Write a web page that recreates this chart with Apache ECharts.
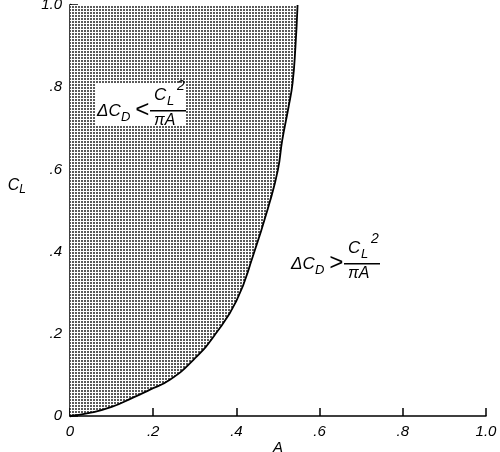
<!DOCTYPE html>
<html>
<head>
<meta charset="utf-8">
<script src="https://cdn.jsdelivr.net/npm/echarts@6/dist/echarts.min.js"></script>
<style>html,body{margin:0;padding:0;background:#fff}#c{width:500px;height:452px}</style>
</head>
<body>
<div id="c"></div>
<script>
// Boundary curve: aspect ratio A (x) vs lift coefficient C_L (y)
var curveA  = [0, 0.05, 0.10, 0.15, 0.19, 0.24, 0.30, 0.35, 0.40, 0.44, 0.48, 0.50, 0.51, 0.525, 0.535, 0.542, 0.547];
var curveCL = [0, 0.008, 0.022, 0.044, 0.063, 0.088, 0.14, 0.20, 0.28, 0.39, 0.52, 0.60, 0.67, 0.75, 0.81, 0.90, 1.00];
var xTickLabels = ['0', '.2', '.4', '.6', '.8', '1.0'];
var yTickLabels = ['0', '.2', '.4', '.6', '.8', '1.0'];

var data = curveA.map(function (a, i) { return [a, curveCL[i]]; });

// dotted fill pattern
var pat = document.createElement('canvas');
pat.width = 3; pat.height = 3;
var pc = pat.getContext('2d');
pc.fillStyle = '#fff'; pc.fillRect(0, 0, 3, 3);
pc.fillStyle = '#5a5a5a'; pc.fillRect(0, 0, 2, 2);

var font = '"Liberation Sans", "DejaVu Sans", sans-serif';
function tickFmt(arr) { return function (v) { var i = Math.round(v / 0.2); return arr[i] !== undefined ? arr[i] : ''; }; }

var chart = echarts.init(document.getElementById('c'), null, { renderer: 'canvas' });

function fracLabel(left, top, sign) {
  var ts = { fontFamily: font, fontStyle: 'italic', fill: '#000' };
  function t(x, y, s, size) { return { type: 'text', left: x, top: y, style: Object.assign({ text: s, fontSize: size }, ts) }; }
  return [
    t(left, top + 12, '\u0394C', 17),
    t(left + 24, top + 20, 'D', 13),
    t(left + 38, top + 7, sign, 24),
    t(left + 57, top - 4, 'C', 17),
    t(left + 70, top + 4, 'L', 13),
    t(left + 80, top - 12, '2', 14),
    { type: 'rect', left: left + 53, top: top + 19, shape: { width: 36, height: 1.5 }, style: { fill: '#000' } },
    t(left + 57, top + 22, '\u03C0A', 16)
  ];
}

var graphics = [
  { type: 'rect', left: 96, top: 83, shape: { width: 90, height: 43 }, style: { fill: '#fff' }, z: 10 }
].concat(fracLabel(97, 91, '<').map(function (g) { g.z = 11; return g; }))
 .concat(fracLabel(291, 244, '>'));

chart.setOption({
  animation: false,
  grid: { left: 70, right: 14, top: 5, bottom: 36, containLabel: false, outerBoundsMode: 'none' },
  xAxis: {
    type: 'value', min: 0, max: 1, interval: 0.2,
    name: 'A', nameLocation: 'middle', nameGap: 24, nameMoveOverlap: false,
    nameTextStyle: { fontFamily: font, fontStyle: 'italic', fontSize: 15, color: '#000' },
    axisLine: { show: true, lineStyle: { color: '#000', width: 1.5 } },
    axisTick: { show: true, inside: true, length: 8, lineStyle: { color: '#000', width: 1.5 } },
    axisLabel: { formatter: tickFmt(xTickLabels), fontFamily: font, fontStyle: 'italic', fontSize: 15, color: '#000', margin: 8 },
    splitLine: { show: false }
  },
  yAxis: {
    type: 'value', min: 0, max: 1, interval: 0.2,
    name: '{c|C}{s|L}', nameLocation: 'middle', nameGap: 44, nameRotate: 0, nameMoveOverlap: false,
    nameTextStyle: { padding: [0, 0, 50, 0], rich: {
      c: { fontFamily: font, fontStyle: 'italic', fontSize: 16, color: '#000' },
      s: { fontFamily: font, fontStyle: 'italic', fontSize: 12, color: '#000', verticalAlign: 'bottom', padding: [8, 0, 0, 0] }
    } },
    axisLine: { show: true, lineStyle: { color: '#000', width: 2.5 } },
    axisTick: { show: true, inside: true, length: 8, lineStyle: { color: '#000', width: 1.5 } },
    axisLabel: { formatter: tickFmt(yTickLabels), fontFamily: font, fontStyle: 'italic', fontSize: 15, color: '#000', margin: 8 },
    splitLine: { show: false }
  },
  series: [{
    type: 'line', data: data, smooth: 0.5, symbol: 'none',
    lineStyle: { color: '#000', width: 1.8 },
    areaStyle: { origin: 'end', color: { image: pat, repeat: 'repeat' }, opacity: 1 }
  }],
  graphic: graphics
});
</script>
</body>
</html>
